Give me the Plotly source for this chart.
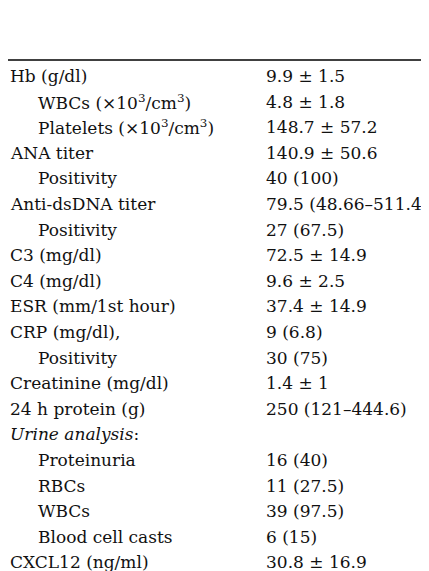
import plotly.graph_objects as go

parameters = ["Hb (g/dl)", "WBCs (×10<sup>3</sup>/cm<sup>3</sup>)", "Platelets (×10<sup>3</sup>/cm<sup>3</sup>)",
              "ANA titer", "Positivity", "Anti-dsDNA titer", "Positivity", "C3 (mg/dl)", "C4 (mg/dl)",
              "ESR (mm/1st hour)", "CRP (mg/dl),", "Positivity", "Creatinine (mg/dl)", "24 h protein (g)",
              "<i>Urine analysis</i>:", "Proteinuria", "RBCs", "WBCs", "Blood cell casts", "CXCL12 (ng/ml)"]
indented = [0, 1, 1, 0, 1, 0, 1, 0, 0, 0, 0, 1, 0, 0, 0, 1, 1, 1, 1, 0]
values = ["9.9 ± 1.5", "4.8 ± 1.8", "148.7 ± 57.2", "140.9 ± 50.6", "40 (100)", "79.5 (48.66–511.4)",
          "27 (67.5)", "72.5 ± 14.9", "9.6 ± 2.5", "37.4 ± 14.9", "9 (6.8)", "30 (75)", "1.4 ± 1",
          "250 (121–444.6)", "", "16 (40)", "11 (27.5)", "39 (97.5)", "6 (15)", "30.8 ± 16.9"]
headers = ["Parameter", "SLE patients<br>(n = 40)"]

W, H = 429, 571
fig = go.Figure()
fig.add_trace(go.Scatter(x=[0], y=[0], mode="markers", marker=dict(opacity=0), hoverinfo="skip", showlegend=False))
font = dict(family="DejaVu Serif", size=17, color="#111")
ann = []
ann.append(dict(x=0, y=-3, text=headers[0], xanchor="left", yanchor="top"))
ann.append(dict(x=256, y=-3, text=headers[1], xanchor="left", yanchor="top", align="left"))
y0, dy = 68, 25.6
for i, (p, ind, v) in enumerate(zip(parameters, indented, values)):
    y = y0 + i * dy
    ann.append(dict(x=28 if ind else 0, y=y, text=p, xanchor="left", yanchor="middle"))
    if v:
        ann.append(dict(x=256, y=y, text=v, xanchor="left", yanchor="middle"))
for a in ann:
    a.update(xref="x", yref="y", showarrow=False, font=font)
fig.update_layout(
    width=W, height=H, margin=dict(l=0, r=0, t=0, b=0),
    paper_bgcolor="white", plot_bgcolor="white", annotations=ann,
    xaxis=dict(range=[0, W], visible=False, fixedrange=True),
    yaxis=dict(range=[H, 0], visible=False, fixedrange=True),
    shapes=[dict(type="line", xref="x", yref="y", x0=0, x1=W, y0=52, y1=52, line=dict(color="black", width=1.5))],
)
fig.write_html("out.html", config=dict(displayModeBar=False))
